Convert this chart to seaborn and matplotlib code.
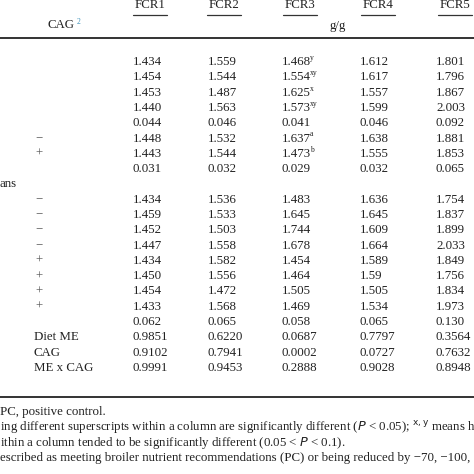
import matplotlib
matplotlib.use("Agg")
import matplotlib.pyplot as plt
import seaborn as sns

sns.set_theme(style="white")
plt.rcParams['font.family'] = ['Liberation Serif', 'DejaVu Serif']

columns = ["FCR1", "FCR2", "FCR3", "FCR4", "FCR5"]
row_signs = ["", "", "", "", "", "−", "+", "", "", "−", "−", "−", "−", "+", "+", "+", "+", "", "", "", ""]
row_labels = ["", "", "", "", "", "", "", "", "ans", "", "", "", "", "", "", "", "", "", "Diet ME", "CAG", "ME x CAG"]
fcr1 = ["1.434", "1.454", "1.453", "1.440", "0.044", "1.448", "1.443", "0.031", "", "1.434", "1.459", "1.452", "1.447", "1.434", "1.450", "1.454", "1.433", "0.062", "0.9851", "0.9102", "0.9991"]
fcr2 = ["1.559", "1.544", "1.487", "1.563", "0.046", "1.532", "1.544", "0.032", "", "1.536", "1.533", "1.503", "1.558", "1.582", "1.556", "1.472", "1.568", "0.065", "0.6220", "0.7941", "0.9453"]
fcr3 = ["1.468", "1.554", "1.625", "1.573", "0.041", "1.637", "1.473", "0.029", "", "1.483", "1.645", "1.744", "1.678", "1.454", "1.464", "1.505", "1.469", "0.058", "0.0687", "0.0002", "0.2888"]
fcr3_sup = ["y", "xy", "x", "xy", "", "a", "b", "", "", "", "", "", "", "", "", "", "", "", "", "", ""]
fcr4 = ["1.612", "1.617", "1.557", "1.599", "0.046", "1.638", "1.555", "0.032", "", "1.636", "1.645", "1.609", "1.664", "1.589", "1.59", "1.505", "1.534", "0.065", "0.7797", "0.0727", "0.9028"]
fcr5 = ["1.801", "1.796", "1.867", "2.003", "0.092", "1.881", "1.853", "0.065", "", "1.754", "1.837", "1.899", "2.033", "1.849", "1.756", "1.834", "1.973", "0.130", "0.3564", "0.7632", "0.8948"]
footnotes = [
    "PC, positive control.",
    "ing different superscripts within a column are significantly different ($P$ < 0.05); $^{\\rm x,y}$ means ha",
    "ithin a column tended to be significantly different (0.05 < $P$ < 0.1).",
    "escribed as meeting broiler nutrient recommendations (PC) or being reduced by −70, −100, and",
    "",
    "entation with a CAG enzyme at 0 (−) or 200 g/tonne (+).",
]

fig = plt.figure(figsize=(4.74, 4.74), dpi=100)
ax = fig.add_axes([0, 0, 1, 1])
ax.set_xlim(0, 474)
ax.set_ylim(474, 0)
ax.axis("off")
fs = 9.3
col_x = [133, 208, 282, 360, 436]
col_c = [150, 224, 300, 378, 455]

for x, c in zip(col_c, columns):
    ax.text(x, 5, c, ha="center", va="center", fontsize=fs, color="#222")
    ax.plot([x - 17, x + 17], [15, 15], color="#333", lw=0.9)
ax.text(48, 25, "CAG", ha="left", va="center", fontsize=fs, color="#222")
ax.text(77, 22, "2", ha="left", va="center", fontsize=5.5, color="#3a8fb7")
ax.text(338, 26, "g/g", ha="center", va="center", fontsize=fs, color="#222")
ax.plot([0, 474], [38, 38], color="#333", lw=1.4)

y0, dy = 62, 15.3
cols = [fcr1, fcr2, fcr3, fcr4, fcr5]
for i in range(len(fcr1)):
    y = y0 + i * dy
    if row_signs[i]:
        ax.text(39, y, row_signs[i], ha="center", va="center", fontsize=fs, color="#555")
    if row_labels[i]:
        lx = 0 if row_labels[i] == "ans" else 34
        ax.text(lx, y, row_labels[i], ha="left", va="center", fontsize=fs, color="#222")
    for j, col in enumerate(cols):
        if col[i]:
            ax.text(col_x[j], y, col[i], ha="left", va="center", fontsize=fs, color="#222")
    if fcr3_sup[i]:
        ax.text(col_x[2] + 28, y - 4, fcr3_sup[i], ha="left", va="center", fontsize=5.5, color="#222")

ax.plot([0, 474], [397, 397], color="#333", lw=1.4)
for k, t in enumerate(footnotes):
    if t:
        ax.text(0, 412 + k * 15.4, t, ha="left", va="center", fontsize=fs, color="#222")

fig.savefig("out.png", dpi=100)
